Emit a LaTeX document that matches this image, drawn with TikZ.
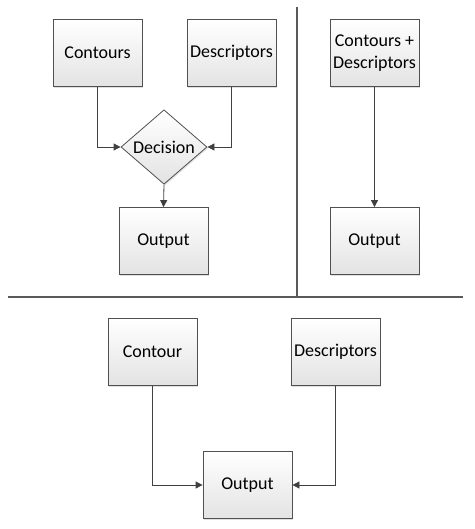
\documentclass[tikz,border=0pt]{standalone}
\usepackage{fontspec}
\setmainfont{Carlito}
\usetikzlibrary{shapes.geometric,arrows.meta,shadows}
\definecolor{edge}{HTML}{505050}
\definecolor{sep}{HTML}{5A5A5A}
\tikzset{
  box/.style={draw=edge, line width=0.8pt, top color=white, bottom color=gray!22,
    minimum width=89pt, minimum height=67pt, inner sep=1pt, align=center,
    font=\fontsize{18}{22}\selectfont,
    drop shadow={shadow xshift=1.2pt, shadow yshift=-1.2pt, opacity=0.25}},
  dec/.style={box, diamond, minimum width=86pt, minimum height=66pt, inner sep=0pt},
  conn/.style={draw=black!75, line width=0.8pt, -{Triangle[length=7pt,width=7pt]}},
  divider/.style={draw=sep, line width=1.3pt}
}
\begin{document}
\begin{tikzpicture}[x=1pt,y=-1pt]
\useasboundingbox (0,0) rectangle (474,529);
% dividers
\coordinate (h1) at (8,297);
\coordinate (h2) at (463,297);
\coordinate (v1) at (297,7);
\coordinate (v2) at (297,297);
\draw[divider] (h1) -- (h2);
\draw[divider] (v1) -- (v2);
% top-left
\node[box] (c1) at (97.5,53) {Contours};
\node[box] (d1) at (231.5,53) {Descriptors};
\node[dec] (x1) at (164,147) {Decision};
\node[box] (o1) at (163.5,241) {Output};
\draw[conn] (c1.south) |- (x1.west);
\draw[conn] (d1.south) |- (x1.east);
\draw[conn] (x1.south) -- (o1.north);
% top-right
\node[box] (cd) at (374.5,53) {Contours +\\Descriptors};
\node[box] (o2) at (374.5,241) {Output};
\draw[conn] (cd.south) -- (o2.north);
% bottom
\node[box] (c3) at (152.5,352) {Contour};
\node[box] (d3) at (335.5,352) {Descriptors};
\node[box] (o3) at (247.5,485) {Output};
\draw[conn] (c3.south) |- (o3.west);
\draw[conn] (d3.south) |- (o3.east);
\end{tikzpicture}
\end{document}
